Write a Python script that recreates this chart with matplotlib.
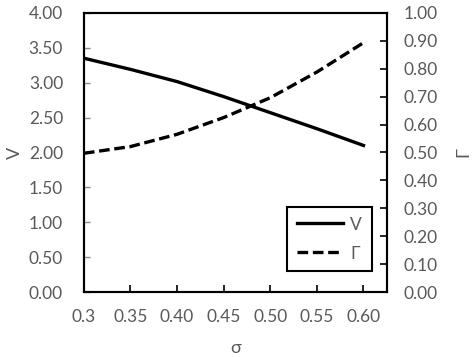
import matplotlib
matplotlib.use("Agg")
import matplotlib.pyplot as plt

plt.rcParams['font.family'] = ['Lato', 'DejaVu Sans']

# data
sigma = [0.30, 0.35, 0.40, 0.45, 0.50, 0.55, 0.60]
V = [3.35, 3.19, 3.015, 2.80, 2.57, 2.34, 2.10]
Gamma = [0.497, 0.521, 0.565, 0.625, 0.696, 0.788, 0.893]
xtick_labels = ["0.3", "0.35", "0.40", "0.45", "0.50", "0.55", "0.60"]

grey = "#595959"

fig = plt.figure(figsize=(4.74, 3.57), dpi=100)
ax = fig.add_axes([0.177, 0.182, 0.639, 0.782])
ax2 = ax.twinx()

l1, = ax.plot(sigma, V, color="black", lw=2.4, label="V")
l2, = ax2.plot(sigma, Gamma, color="black", lw=2.4, dashes=(3.2, 1.4), label="Γ")

ax.set_xlim(0.30, 0.625)
ax.set_ylim(0, 4)
ax2.set_ylim(0, 1)
ax.set_xticks(sigma)
ax.set_xticklabels(xtick_labels)
ax.set_yticks([i * 0.5 for i in range(9)])
ax.set_yticklabels([f"{i * 0.5:.2f}" for i in range(9)])
ax2.set_yticks([i * 0.1 for i in range(11)])
ax2.set_yticklabels([f"{i * 0.1:.2f}" for i in range(11)])

for a in (ax, ax2):
    for s in a.spines.values():
        s.set_linewidth(1.5)
        s.set_color("black")
ax.tick_params(axis="x", direction="in", length=5, width=1.2, colors="black",
               labelcolor=grey, labelsize=12.5, pad=12)
ax.tick_params(axis="y", direction="in", length=4, width=1, colors="#8c8c8c",
               labelcolor=grey, labelsize=12.5, pad=15)
ax2.tick_params(axis="y", direction="in", length=5, width=1.2, colors="black",
                labelcolor=grey, labelsize=12.5, pad=12)

ax.set_xlabel("σ", color=grey, fontsize=13, labelpad=11)
ax.set_ylabel("V", color=grey, fontsize=13, labelpad=4)
ax2.set_ylabel("Γ", color=grey, fontsize=13, labelpad=13)

leg = ax.legend([l1, l2], ["V", "Γ"], loc="lower right",
                bbox_to_anchor=(0.95, 0.075), borderaxespad=0,
                fontsize=12.5, handlelength=2.7, labelspacing=0.75,
                fancybox=False, framealpha=1, edgecolor="black",
                borderpad=0.55, handletextpad=0.4)
leg.get_frame().set_linewidth(1.5)
for t in leg.get_texts():
    t.set_color(grey)

fig.savefig("out.png", dpi=100)
